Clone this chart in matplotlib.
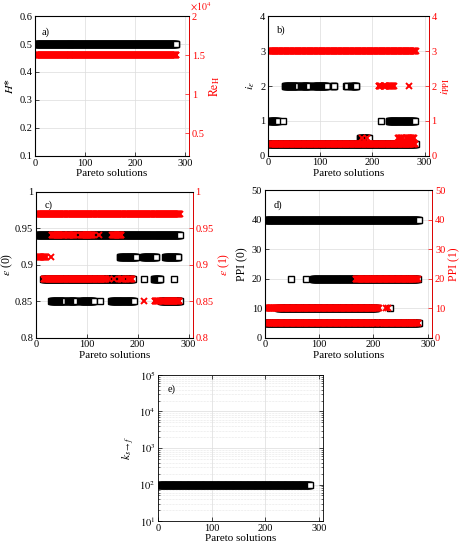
import matplotlib
matplotlib.use("Agg")
import matplotlib.pyplot as plt
import numpy as np

plt.rcParams["font.family"] = ["Liberation Serif", "DejaVu Serif"]
plt.rcParams["mathtext.fontset"] = "stix"
plt.rcParams["font.size"] = 7.5

# Data: (value, first solution, last solution) runs
# ----------------------------------
h_star = [(0.5, 1, 283)]
re_h = [(1.5e4, 1, 283)]

i_eps = [(0.33, 1, 283), (0.5, 176, 193),
         (1, 3, 19), (1, 28, 28), (1, 216, 216), (1, 231, 281),
         (2, 32, 57), (2, 63, 79), (2, 87, 113), (2, 124, 127),
         (2, 150, 152), (2, 160, 169)]
i_ppi = [(3, 1, 283), (0.33, 3, 281), (0.5, 180, 180), (0.5, 190, 190),
         (0.5, 250, 257), (0.5, 265, 279),
         (2, 212, 216), (2, 222, 226), (2, 232, 241), (2, 270, 270)]

eps0 = [(0.94, 1, 283),
        (0.91, 165, 197), (0.91, 210, 236), (0.91, 254, 280),
        (0.88, 14, 190), (0.88, 213, 213), (0.88, 231, 244), (0.88, 271, 271),
        (0.85, 30, 58), (0.85, 62, 79), (0.85, 87, 114), (0.85, 125, 125),
        (0.85, 148, 192), (0.85, 246, 283)]
eps1 = [(0.97, 1, 283),
        (0.94, 31, 56), (0.94, 62, 76), (0.94, 88, 112), (0.94, 124, 124),
        (0.94, 150, 168),
        (0.91, 4, 19), (0.91, 29, 29),
        (0.88, 15, 138), (0.88, 143, 143), (0.88, 153, 153),
        (0.88, 166, 172), (0.88, 181, 188),
        (0.85, 213, 213), (0.85, 233, 241), (0.85, 248, 282)]

ppi0 = [(40, 1, 283), (20, 48, 48), (20, 76, 76), (20, 88, 281),
        (10, 25, 205), (10, 231, 231), (5, 1, 283)]
ppi1 = [(20, 167, 281), (10, 1, 210), (10, 223, 223), (10, 227, 227),
        (5, 3, 205), (5, 210, 282)]

k_sf = [(100, 1, 283)]


def expand(runs):
    xs, ys = [], []
    for val, a, b in runs:
        idx = np.arange(a, b + 1)
        xs.append(idx)
        ys.append(np.full(len(idx), val, dtype=float))
    return np.concatenate(xs), np.concatenate(ys)


black = dict(ls="none", marker="s", ms=4.0, mfc="white", mec="black", mew=1.0)
red = dict(ls="none", marker="x", ms=4.0, color="red", mew=1.4)
grid_kw = dict(color="#dcdcdc", lw=0.5)
lab_fs = 8.5


def style_left(ax):
    ax.set_xlim(0, 308)
    ax.set_xticks([0, 100, 200, 300])
    ax.tick_params(direction="in", length=3, width=0.5, pad=2)
    ax.grid(True, **grid_kw)
    ax.set_axisbelow(True)
    for s in ax.spines.values():
        s.set_linewidth(0.6)
    ax.set_xlabel("Pareto solutions", labelpad=1, fontsize=8)


def style_right(ax2):
    ax2.tick_params(axis="y", direction="in", length=3, width=0.5, pad=2,
                    colors="red")
    ax2.spines["right"].set_color("red")
    ax2.spines["right"].set_linewidth(0.6)


fig = plt.figure(figsize=(4.68, 5.5), dpi=100)

# a)
ax = fig.add_axes([0.0748, 0.7164, 0.329, 0.2545])
ax2 = ax.twinx()
ax.plot(*expand(h_star), **black)
ax2.plot(*expand(re_h), **red)
style_left(ax)
style_right(ax2)
ax.set_ylim(0.1, 0.6)
ax.set_yticks([0.1, 0.2, 0.3, 0.4, 0.5, 0.6])
ax.set_yticklabels(["0.1", "0.2", "0.3", "0.4", "0.5", "0.6"])
ax2.set_ylim(2100, 20000)
ax2.set_yticks([5000, 10000, 15000, 20000])
ax2.set_yticklabels(["0.5", "1", "1.5", "2"])
ax2.text(1.005, 1.025, r"$\times10^4$", transform=ax2.transAxes, color="red",
         ha="left", va="bottom", fontsize=7)
ax.set_ylabel(r"$H$*", labelpad=2, fontsize=lab_fs)
ax2.set_ylabel(r"$\mathrm{Re}_\mathrm{H}$", color="red", labelpad=2,
               fontsize=lab_fs)
ax.text(0.045, 0.886, "a)", transform=ax.transAxes, va="center")

# b)
ax = fig.add_axes([0.5726, 0.7169, 0.3434, 0.2533])
ax2 = ax.twinx()
ax.plot(*expand(i_eps), **black)
ax2.plot(*expand(i_ppi), **red)
style_left(ax)
style_right(ax2)
ax.set_ylim(0, 4)
ax2.set_ylim(0, 4)
ax.set_yticks([0, 1, 2, 3, 4])
ax2.set_yticks([0, 1, 2, 3, 4])
ax.set_ylabel(r"$i_\epsilon$", labelpad=2, fontsize=lab_fs)
ax2.set_ylabel(r"$i_\mathrm{PPI}$", color="red", labelpad=2, fontsize=lab_fs)
ax.text(0.054, 0.9, "b)", transform=ax.transAxes, va="center")

# c)
ax = fig.add_axes([0.0769, 0.386, 0.3348, 0.2655])
ax2 = ax.twinx()
ax.plot(*expand(eps0), **black)
ax2.plot(*expand(eps1), **red)
style_left(ax)
style_right(ax2)
eps_ticks = [0.8, 0.85, 0.9, 0.95, 1.0]
eps_labels = ["0.8", "0.85", "0.9", "0.95", "1"]
for a in (ax, ax2):
    a.set_ylim(0.8, 1.0)
    a.set_yticks(eps_ticks)
    a.set_yticklabels(eps_labels)
ax.set_ylabel(r"$\epsilon$ (0)", fontsize=lab_fs)
ax.yaxis.set_label_coords(-0.135, 0.5)
ax2.set_ylabel(r"$\epsilon$ (1)", color="red", labelpad=2, fontsize=lab_fs)
ax.text(0.057, 0.909, "c)", transform=ax.transAxes, va="center")

# d)
ax = fig.add_axes([0.5656, 0.386, 0.358, 0.2685])
ax2 = ax.twinx()
ax.plot(*expand(ppi0), **black)
ax2.plot(*expand(ppi1), **red)
style_left(ax)
style_right(ax2)
for a in (ax, ax2):
    a.set_ylim(0, 50)
    a.set_yticks([0, 10, 20, 30, 40, 50])
ax.set_ylabel("PPI (0)", labelpad=2, fontsize=lab_fs)
ax2.set_ylabel("PPI (1)", color="red", labelpad=2, fontsize=lab_fs)
ax.text(0.054, 0.9, "d)", transform=ax.transAxes, va="center")

# e)
ax = fig.add_axes([0.3382, 0.0527, 0.3526, 0.2655])
ax.plot(*expand(k_sf), **black)
ax.set_yscale("log")
ax.set_ylim(10, 1e5)
ax.set_yticks([1e1, 1e2, 1e3, 1e4, 1e5])
ax.set_yticklabels([r"$10^1$", r"$10^2$", r"$10^3$", r"$10^4$", r"$10^5$"])
style_left(ax)
ax.tick_params(axis="y", which="minor", direction="in", length=1.5, width=0.4)
ax.grid(True, which="minor", axis="y", color="#d0d0d0", lw=0.4, ls=":")
ax.tick_params(right=True, top=True, which="both")
ax.set_ylabel(r"$k_{s\rightarrow f}$", labelpad=2, fontsize=lab_fs)
ax.text(0.054, 0.9, "e)", transform=ax.transAxes, va="center")

fig.savefig("out.png", dpi=100)
